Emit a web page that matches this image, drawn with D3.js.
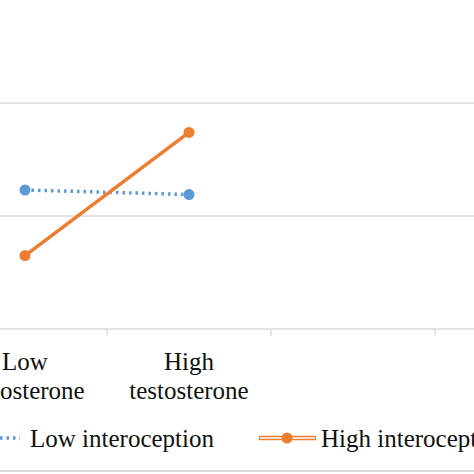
<!DOCTYPE html>
<html><head><meta charset="utf-8">
<script src="https://cdn.jsdelivr.net/npm/d3@7"></script>
<style>body{margin:0;background:#fff}text{font-family:"Liberation Serif","Times New Roman",serif}</style>
</head><body><div id="chart"></div>
<script>
const categories = ["Low testosterone", "High testosterone", "", ""];
const lowIntero = [1.23, 1.19];
const highIntero = [0.65, 1.74];
const yTicks = [0, 1, 2, 3];

const width = 474, height = 474;
const svg = d3.select("#chart").append("svg")
    .attr("width", width).attr("height", height);

const x = d3.scaleBand().domain(categories.map((c, i) => i)).range([-57, 599]);
const y = d3.scaleLinear().domain([0, 3]).range([329, -10]);

// gridlines
svg.selectAll("line.grid").data(yTicks.slice(1)).join("line")
    .attr("x1", 0).attr("x2", width)
    .attr("y1", d => y(d)).attr("y2", d => y(d))
    .attr("stroke", "#d9d9d9").attr("stroke-width", 1.3);

// category axis
svg.append("line").attr("x1", 0).attr("x2", width)
    .attr("y1", y(0)).attr("y2", y(0)).attr("stroke", "#d9d9d9").attr("stroke-width", 1.3);
svg.selectAll("line.tick").data(categories.map((c, i) => i)).join("line")
    .attr("x1", d => x(d) + x.bandwidth()).attr("x2", d => x(d) + x.bandwidth())
    .attr("y1", y(0)).attr("y2", y(0) + 7).attr("stroke", "#d9d9d9").attr("stroke-width", 1.3);

categories.forEach((c, i) => {
    if (!c) return;
    const words = c.split(" ");
    const t = svg.append("text").attr("text-anchor", "middle")
        .attr("font-size", 25).attr("fill", "#111");
    words.forEach((w, j) => t.append("tspan")
        .attr("x", x(i) + x.bandwidth() / 2).attr("y", 370 + j * 29).text(w));
});

const cx = i => x(i) + x.bandwidth() / 2;
const line = d3.line().x((d, i) => cx(i)).y(d => y(d));

svg.append("path").datum(lowIntero).attr("d", line).attr("fill", "none")
    .attr("stroke", "#5b9bd5").attr("stroke-width", 3.5).attr("stroke-dasharray", "2.5,4");
svg.append("path").datum(highIntero).attr("d", line).attr("fill", "none")
    .attr("stroke", "#ed7d31").attr("stroke-width", 3.5);

svg.selectAll("circle.low").data(lowIntero).join("circle")
    .attr("cx", (d, i) => cx(i)).attr("cy", d => y(d)).attr("r", 5.5).attr("fill", "#5b9bd5");
svg.selectAll("circle.high").data(highIntero).join("circle")
    .attr("cx", (d, i) => cx(i)).attr("cy", d => y(d)).attr("r", 5.5).attr("fill", "#ed7d31");

// legend
const ly = 438;
svg.append("line").attr("x1", 0).attr("x2", 20).attr("y1", ly).attr("y2", ly)
    .attr("stroke", "#5b9bd5").attr("stroke-width", 3.5).attr("stroke-dasharray", "2.5,4");
svg.append("text").attr("x", 30).attr("y", ly + 9).attr("font-size", 25).attr("fill", "#111")
    .text("Low interoception");
svg.append("line").attr("x1", 259).attr("x2", 316).attr("y1", ly).attr("y2", ly)
    .attr("stroke", "#ed7d31").attr("stroke-width", 4.5);
svg.append("line").attr("x1", 260).attr("x2", 315).attr("y1", ly).attr("y2", ly)
    .attr("stroke", "#fff").attr("stroke-width", 1.5);
svg.append("circle").attr("cx", 287).attr("cy", ly).attr("r", 5.5).attr("fill", "#ed7d31");
svg.append("text").attr("x", 321).attr("y", ly + 9).attr("font-size", 25).attr("fill", "#111")
    .text("High interoception");

svg.append("line").attr("x1", 0).attr("x2", width).attr("y1", 471).attr("y2", 471)
    .attr("stroke", "#d9d9d9").attr("stroke-width", 2);
</script></body></html>
